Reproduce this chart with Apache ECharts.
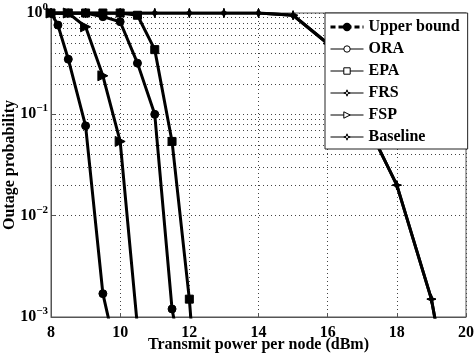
<!DOCTYPE html>
<html>
<head>
<meta charset="utf-8">
<script src="https://cdn.jsdelivr.net/npm/echarts@6/dist/echarts.min.js"></script>
<style>
html, body { margin: 0; padding: 0; background: #fff; }
#main { width: 474px; height: 353px; }
</style>
</head>
<body>
<div id="main"></div>
<script>
// values (x = dBm, y = outage probability)
var powerUB = [8, 8.2, 8.5, 9, 9.5, 10];
var upperBound = [1, 0.76, 0.35, 0.077, 0.0017, 0.0003];

var powerORA = [8, 8.5, 9, 9.5, 10, 10.5, 11, 11.5, 12];
var ora = [1, 1, 1, 0.92, 0.82, 0.32, 0.1, 0.0012, 0.00015];

var powerEPA = [8, 8.5, 9, 9.5, 10, 10.5, 11, 11.5, 12, 12.5];
var epa = [1, 1, 1, 1, 1, 0.95, 0.435, 0.054, 0.0015, 0.00001];

var powerFSP = [8, 8.5, 9, 9.5, 10, 10.5];
var fsp = [1, 1, 0.73, 0.24, 0.054, 0.0008];

var powerBase = [8, 9, 10, 11, 12, 13, 14, 15, 16, 17, 18, 19, 20];
var frs = [1, 1, 1, 1, 1, 1, 1, 0.95, 0.5, 0.1, 0.02, 0.0015, 0.00002];
var baseline = [1, 1, 1, 1, 1, 1, 1, 0.95, 0.5, 0.1, 0.02, 0.0015, 0.00002];

var xTicks = [8, 10, 12, 14, 16, 18, 20];

var serif = '"Liberation Serif", "Times New Roman", serif';
var starPath = 'path://M0,-10L2.5,-2.5L10,0L2.5,2.5L0,10L-2.5,2.5L-10,0L-2.5,-2.5Z';

function pairs(xs, ys) {
    var out = [];
    for (var i = 0; i < xs.length; i++) out.push([xs[i], ys[i]]);
    return out;
}

// dotted minor grid lines 2..9 x 10^k
var minorLines = [];
for (var k = -3; k < 0; k++) {
    for (var m = 2; m <= 9; m++) {
        minorLines.push({yAxis: m * Math.pow(10, k)});
    }
}

var myChart = echarts.init(document.getElementById('main'));

function mkSeries(name, xs, ys, symbol, size, rotate) {
    return {
        name: name,
        type: 'line',
        data: pairs(xs, ys),
        symbol: symbol,
        symbolSize: size,
        symbolRotate: rotate || 0,
        showAllSymbol: true,
        clip: true,
        lineStyle: {color: '#000', width: 3},
        itemStyle: {color: '#000', borderColor: '#000', borderWidth: 1},
        z: 3
    };
}

var series = [
    mkSeries('Upper bound', powerUB, upperBound, 'circle', 8),
    mkSeries('ORA', powerORA, ora, 'circle', 8),
    mkSeries('EPA', powerEPA, epa, 'rect', 8),
    mkSeries('FRS', powerBase, frs, starPath, 9),
    mkSeries('FSP', powerFSP, fsp, 'triangle', 10, -90),
    mkSeries('Baseline', powerBase, baseline, starPath, 9)
];
series[5].markLine = {
    silent: true,
    symbol: 'none',
    label: {show: false},
    lineStyle: {color: '#444', width: 1, type: [1, 3]},
    data: minorLines,
    z: 1
};

var openItem = {color: '#fff', borderColor: '#000', borderWidth: 1};
var thinLine = {width: 1, color: '#000', type: 'solid'};
var legendData = [
    {name: 'Upper bound', itemStyle: {color: '#000'}, lineStyle: {width: 3, type: [5, 3], color: '#000'}},
    {name: 'ORA', itemStyle: openItem, lineStyle: thinLine},
    {name: 'EPA', itemStyle: openItem, lineStyle: thinLine},
    {name: 'FRS', itemStyle: openItem, lineStyle: thinLine},
    {name: 'FSP', itemStyle: openItem, lineStyle: thinLine},
    {name: 'Baseline', itemStyle: openItem, lineStyle: thinLine}
];

var option = {
    animation: false,
    backgroundColor: '#fff',
    grid: {
        left: 51, right: 8, top: 13, bottom: 36,
        outerBoundsMode: 'none',
        containLabel: false,
        show: true, borderColor: '#555', borderWidth: 1, backgroundColor: 'transparent'
    },
    legend: {
        data: legendData,
        orient: 'vertical',
        left: 325,
        top: 13,
        itemWidth: 33,
        itemHeight: 8,
        itemGap: 6,
        padding: [6, 8, 4, 4],
        backgroundColor: '#fff',
        borderColor: '#222',
        borderWidth: 1,
        selectedMode: false,
        textStyle: {fontFamily: serif, fontWeight: 'bold', fontSize: 16, color: '#000'}
    },
    xAxis: {
        type: 'value',
        min: 8,
        max: 20,
        interval: 2,
        name: 'Transmit power per node (dBm)',
        nameLocation: 'middle',
        nameGap: 20,
        nameMoveOverlap: false,
        nameTextStyle: {fontFamily: serif, fontWeight: 'bold', fontSize: 16, color: '#000'},
        axisLine: {show: true, lineStyle: {color: '#555', width: 1}},
        axisTick: {show: true, inside: true, length: 4, lineStyle: {color: '#555'}},
        axisLabel: {
            margin: 8,
            fontFamily: serif, fontWeight: 'bold', fontSize: 16, color: '#000',
            formatter: function (v) { return xTicks.indexOf(v) >= 0 ? String(v) : ''; }
        },
        splitLine: {show: true, lineStyle: {color: '#444', width: 1, type: [1, 3]}}
    },
    yAxis: {
        type: 'log',
        logBase: 10,
        min: 0.001,
        max: 1,
        splitNumber: 3,
        name: 'Outage probability',
        nameLocation: 'middle',
        nameGap: 33,
        nameMoveOverlap: false,
        nameTextStyle: {fontFamily: serif, fontWeight: 'bold', fontSize: 16, color: '#000'},
        axisLine: {show: true, lineStyle: {color: '#555', width: 1}},
        axisTick: {show: true, inside: true, length: 4, lineStyle: {color: '#555'}},
        axisLabel: {
            margin: 3,
            formatter: function (v) {
                var e = Math.round(Math.log(v) / Math.LN10);
                var s = e < 0 ? '\u2212' + (-e) : String(e);
                return '{b|10}{s|' + s + '}';
            },
            rich: {
                b: {fontFamily: serif, fontWeight: 'bold', fontSize: 16, color: '#000'},
                s: {fontFamily: serif, fontWeight: 'bold', fontSize: 11, color: '#000', padding: [0, 0, 12, 0]}
            }
        },
        splitLine: {show: true, lineStyle: {color: '#444', width: 1, type: [1, 3]}}
    },
    series: series
};

myChart.setOption(option);
</script>
</body>
</html>
